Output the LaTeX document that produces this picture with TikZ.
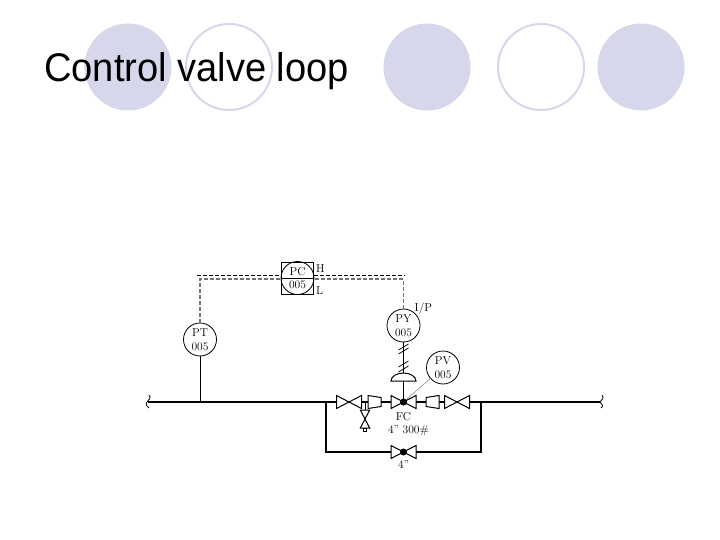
\documentclass[tikz,border=0pt]{standalone}
\usepackage{fontspec}
\newfontfamily\titlefont{Liberation Sans}
\definecolor{bubble}{HTML}{D7D7EB}
\tikzset{
  instr/.style={draw, circle, minimum size=33pt, inner sep=0pt, fill=white, line width=.8pt, align=center, font=\fontsize{11.5}{13.5}\selectfont},
  tag/.style={inner sep=0pt, font=\fontsize{11.5}{13}\selectfont},
  pipe/.style={line width=2.2pt},
  bypass/.style={line width=1.1pt},
  signal/.style={dashed, dash pattern=on 4pt off 2pt, line width=.9pt},
  bowtie/.pic={
    \draw[fill=white, line width=1pt] (-12.5,-6.5) -- (12.5,6.5) -- (12.5,-6.5) -- (-12.5,6.5) -- cycle;
  },
  reducer/.pic={
    \draw[fill=white, line width=1pt] (-6.5,-6.5) -- (6.5,-4.5) -- (6.5,4.5) -- (-6.5,6.5) -- cycle;
  },
}
\begin{document}
\begin{tikzpicture}[x=1pt, y=-1pt]
\useasboundingbox (0,0) rectangle (720,540);
% title bubbles
\fill[bubble] (128,67) circle (43.5);
\draw[bubble, line width=2pt] (229,67) circle (43);
\fill[bubble] (427,67) circle (43.5);
\draw[bubble, line width=2pt] (541,67) circle (43);
\fill[bubble] (641,67) circle (43.5);
\node[anchor=base west, inner sep=0pt, xscale=.952, font=\fontsize{40}{40}\titlefont] (title) at (44,81.5) {Control valve loop};
% instruments
\node[instr] (PT) at (200,339.5) {PT\\005};
\node[instr] (PY) at (403.5,325.5) {PY\\005};
\node[instr] (PV) at (443,367.5) {PV\\005};
\node[draw, minimum size=32pt, inner sep=0pt, line width=.8pt] (PCbox) at (297.5,278) {};
\node[instr, fill=none] (PC) at (297.5,278) {PC\\005};
\draw[line width=.8pt] (PCbox.west) -- (PCbox.east);
\node[tag, anchor=west] (H) at (316,269) {H};
\node[tag, anchor=west] (L) at (316,291) {L};
\node[tag, anchor=west] (IP) at (414.5,309) {I/P};
% pipe points
\coordinate (pipeL) at (148,402);
\coordinate (pipeR) at (600,402);
\coordinate (VL) at (349,402);
\coordinate (RL) at (374.5,402);
\coordinate (CV) at (403.5,402);
\coordinate (RR) at (432.5,402);
\coordinate (VR) at (457,402);
\coordinate (TL) at (326,402);
\coordinate (TR) at (481,402);
\coordinate (BL) at (326,452);
\coordinate (BR) at (481,452);
\coordinate (BV) at (403.5,452);
\coordinate (DV) at (365,419);
% signal lines
\draw[signal] (197,275) -- (PCbox.west |- 0,275);
\draw[signal] (PCbox.east |- 0,275) -- (405,275);
\draw[signal, black!55, line width=1.1pt] (PT.north) -- (200,279) -- (PCbox.west |- 0,279);
\draw[signal, black!55, line width=1.1pt] (PY.north) -- (403.5,279) -- (PCbox.east |- 0,279);
% pipes
\draw[pipe] (pipeL) -- (pipeR);
\draw[line width=.8pt] (PT.south) -- (PT.south |- pipeL);
\draw[bypass] (TL) -- (BL) -- (BR) -- (TR);
\draw[line width=1pt] (PY.south) -- (CV);
\draw[line width=.5pt, gray] (PV) -- (CV);
\draw[line width=.8pt] (365,402) -- (DV);
% hash marks
\foreach \yy in {347,351,364,369}
  \draw[line width=.7pt] (398.5,\yy+3) -- (408.5,\yy-3);
% actuator
\draw[fill=white, line width=1pt] (391,381) arc (180:360:12.5 and 8) -- cycle;
% valves
\pic at (VL) {bowtie};
\pic at (VR) {bowtie};
\pic at (CV) {bowtie};
\pic at (BV) {bowtie};
\pic at (RL) {reducer};
\pic[xscale=-1] at (RR) {reducer};
\pic[rotate=90, scale=.72] at (DV) {bowtie};
\draw[line width=.8pt, fill=white] (363.5,428) rectangle (366.5,431);
\fill (CV) circle (3.5);
\fill (BV) circle (3.5);
% pipe ends
\draw[line width=.8pt] (149,395) .. controls (152,398) and (148,400) .. (147,402) .. controls (145,404) and (147,407) .. (149,408);
\draw[line width=.8pt] (602,395) .. controls (605,398) and (601,400) .. (600,402) .. controls (602,404) and (604,406) .. (601,408);
% valve labels
\node[tag] (FC) at (403.5,417) {FC};
\node[tag] (size) at (408.5,431) {4" 300\#};
\node[tag] (bysize) at (403.5,465) {4"};
\end{tikzpicture}
\end{document}
